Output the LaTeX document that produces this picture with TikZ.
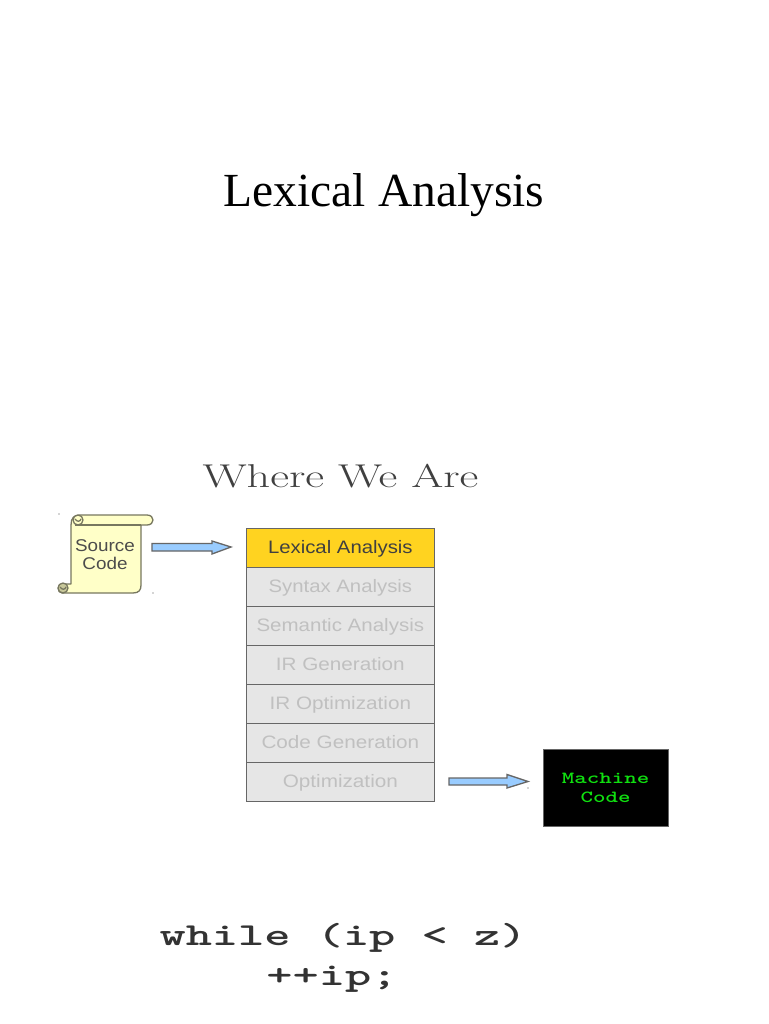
\documentclass[tikz,border=0pt]{standalone}
\usepackage{fontspec}
\newfontfamily\timesf{Liberation Serif}
\newfontfamily\arialf{Liberation Sans}
\definecolor{stagegray}{HTML}{E6E6E6}
\definecolor{stageline}{HTML}{666666}
\definecolor{stagetext}{HTML}{C0C0C0}
\definecolor{lexyellow}{HTML}{FFD320}
\definecolor{arrowblue}{HTML}{99CCFF}
\definecolor{scrollfill}{HTML}{FFFFC8}
\definecolor{scrollline}{HTML}{77775F}
\definecolor{curlfill}{HTML}{C8C89A}
\definecolor{headgray}{HTML}{404040}
\definecolor{codegreen}{HTML}{10E010}
\newcommand\stretchtext[2]{\scalebox{#1}[1]{#2}}
\tikzset{
 stagebox/.style={draw=stageline,line width=1.2pt,fill=stagegray,minimum width=187.5pt,minimum height=39pt,inner sep=0pt,anchor=north west,text height=13pt,text depth=4pt,font=\arialf\fontsize{18}{20}\selectfont},
 stagelabel/.style={text=stagetext,text height=14pt,text depth=3pt},
 flowarrow/.style={draw=stageline,line width=1.3pt,fill=arrowblue,line join=miter},
 scrollpart/.style={draw=scrollline,line width=1.3pt,line join=round},
 markdot/.style={fill=black!70,inner sep=0pt,minimum size=1.2pt,shape=circle},
}
\begin{document}
\begin{tikzpicture}[x=1pt,y=-1pt]
\useasboundingbox[fill=white] (0,0) rectangle (768,1024);
\node[font=\timesf\fontsize{47.5}{50}\selectfont] (title) at (384,195) {Lexical Analysis};
\node[text=headgray,font=\fontsize{33}{36}\selectfont\addfontfeatures{FakeBold=1.5}] (head) at (340.5,476) {\stretchtext{1.4}{Where We Are}};
% stages
\node[stagebox,fill=lexyellow,minimum height=40pt,text=black!75] (s1) at (246,528) {\stretchtext{1.13}{Lexical Analysis}};
\node[stagebox,stagelabel] (s2) at (246,567) {\stretchtext{1.13}{Syntax Analysis}};
\node[stagebox,stagelabel] (s3) at (246,606) {\stretchtext{1.14}{Semantic Analysis}};
\node[stagebox,stagelabel] (s4) at (246,645) {\stretchtext{1.15}{IR Generation}};
\node[stagebox,stagelabel] (s5) at (246,684) {\stretchtext{1.15}{IR Optimization}};
\node[stagebox,stagelabel] (s6) at (246,723) {\stretchtext{1.15}{Code Generation}};
\node[stagebox,stagelabel] (s7) at (246,762) {\stretchtext{1.15}{Optimization}};
% scroll
\draw[scrollpart,fill=scrollfill]
 (71,525) .. controls (71,518) and (74,515) .. (80,515) -- (147,515)
 .. controls (155,515) and (155,525) .. (147,525) -- (141,525) -- (141,585)
 .. controls (141,590) and (139,593) .. (133,593) -- (62,593)
 .. controls (57,593) and (57,584) .. (62,584) -- (71,584) -- cycle;
\draw[scrollpart] (75,525) -- (141,525);
\draw[scrollpart,fill=curlfill] (63,588) circle[radius=5pt];
\draw[scrollpart,fill=scrollfill] (78,520) circle[radius=5pt];
\draw[scrollpart] (75,519) .. controls (77,522) and (80,522) .. (81,519);
\draw[scrollpart] (60,587) .. controls (62,590) and (65,590) .. (66,587);
\node[text=black!70,align=center,font=\arialf\fontsize{17}{18}\selectfont] (src) at (105,555) {\stretchtext{1.11}{Source}\\\stretchtext{1.11}{Code}};
\node[markdot] (d1) at (59,514) {};
\node[markdot] (d2) at (153,593) {};
\node[markdot] (d3) at (528,788) {};
% arrows
\draw[flowarrow] (152,543.5) -- (212,543.5) -- (212,541) -- (231,547) -- (212,554) -- (212,551) -- (152,551) -- cycle;
\draw[flowarrow] (449,778) -- (507,778) -- (507,774.5) -- (528,781.5) -- (507,788) -- (507,785) -- (449,785) -- cycle;
% machine code
\node[draw=stageline,fill=black,minimum width=125pt,minimum height=77pt,inner sep=0pt,anchor=north west,text=codegreen,align=center,font=\ttfamily\bfseries\fontsize{17}{19.5}\selectfont\addfontfeatures{FakeBold=1}] (mc) at (543,749) {\stretchtext{1.4}{Machine}\\\stretchtext{1.4}{Code}};
% code
\node[text=black!80,align=center,font=\ttfamily\bfseries\fontsize{32}{40}\selectfont\addfontfeatures{FakeBold=1.5}] (code) at (343,958) {\stretchtext{1.56}{while (ip < z)}\\\stretchtext{1.56}{++ip;}\hspace*{22pt}};
\end{tikzpicture}
\end{document}
